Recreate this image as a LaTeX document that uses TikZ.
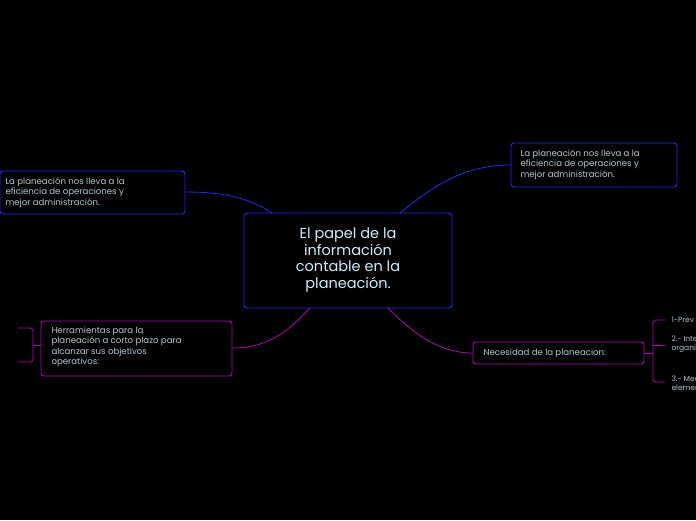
\documentclass[tikz,border=0pt]{standalone}
\usepackage{fontspec}
\setmainfont{Poppins}
\begin{document}
\begin{tikzpicture}[x=1pt,y=-1pt,
  txt/.style={text=white!75!cyan!60!gray, align=left, font=\fontsize{8.6}{10.5}\selectfont},
  bbox/.style={draw=blue!85!white, rounded corners=3pt, line width=0.9pt, inner sep=0pt},
  pbox/.style={draw=violet!60!magenta, rounded corners=3pt, line width=0.9pt, inner sep=0pt},
  bl/.style={draw=blue!85!white, line width=0.8pt},
  pl/.style={draw=violet!60!magenta, line width=0.8pt}]
\fill[black] (0,0) rectangle (696,520);
\clip (0,0) rectangle (696,520);
% central
\draw[bbox] (244,213) rectangle (452,308);
\node[text=white!80!cyan, align=center, font=\fontsize{14.5}{16.5}\selectfont] (c) at (348,260) {El papel de la\\información\\contable en la\\planeación.};
\coordinate (ctl) at (272,213);
\coordinate (ctr) at (400,213);
\coordinate (cbl) at (310,308);
\coordinate (cbr) at (388,308);
% left top
\draw[bbox] (0,171) rectangle (185,214);
\node[txt, anchor=north west] (lt) at (2,174) {La planeación nos lleva a la\\eficiencia de operaciones y\\mejor administración.};
\coordinate (ltc) at (185,192);
% right top
\draw[bbox] (511,143) rectangle (677,187);
\node[txt, anchor=north west] (rt) at (517,146) {La planeación nos lleva a la\\eficiencia de operaciones y\\mejor administración.};
\coordinate (rtc) at (511,165);
% left mid
\draw[pbox] (41,321) rectangle (232,376);
\node[txt, anchor=north west] (lm) at (48,323) {Herramientas para la\\planeación a corto plazo para\\alcanzar sus objetivos\\operativos:};
\coordinate (lmc) at (232,348);
% right mid
\draw[pbox] (473,342) rectangle (644,364);
\node[txt, anchor=west] (rm) at (480,353) {Necesidad de la planeacion:};
\coordinate (rmc) at (473,353);
% connectors
\draw[bl] (ctl) .. controls (245,195) and (215,192) .. (ltc);
\draw[bl] (ctr) .. controls (440,180) and (470,165) .. (rtc);
\draw[pl] (cbl) .. controls (285,335) and (265,348) .. (lmc);
\draw[pl] (cbr) .. controls (415,335) and (440,353) .. (rmc);
% left bracket
\draw[pl] (41,345) -- (33,345);
\draw[pl, rounded corners=3pt] (18,328) -- (33,328) -- (33,362) -- (18,362);
% right bracket
\draw[pl] (644,353) -- (653,353);
\draw[pl, rounded corners=3pt] (665,320) -- (653,320) -- (653,382) -- (665,382);
\draw[pl] (653,345) -- (665,345);
\node[txt, anchor=west, font=\fontsize{7.5}{9}\selectfont] (n1) at (668,320) {1-Prev};
\node[txt, anchor=west, font=\fontsize{7.5}{9}\selectfont] (n2) at (668,344) {2.- Integrar\\organización};
\node[txt, anchor=west, font=\fontsize{7.5}{9}\selectfont] (n3) at (668,383) {3.- Medir\\elementos};
\end{tikzpicture}
\end{document}
